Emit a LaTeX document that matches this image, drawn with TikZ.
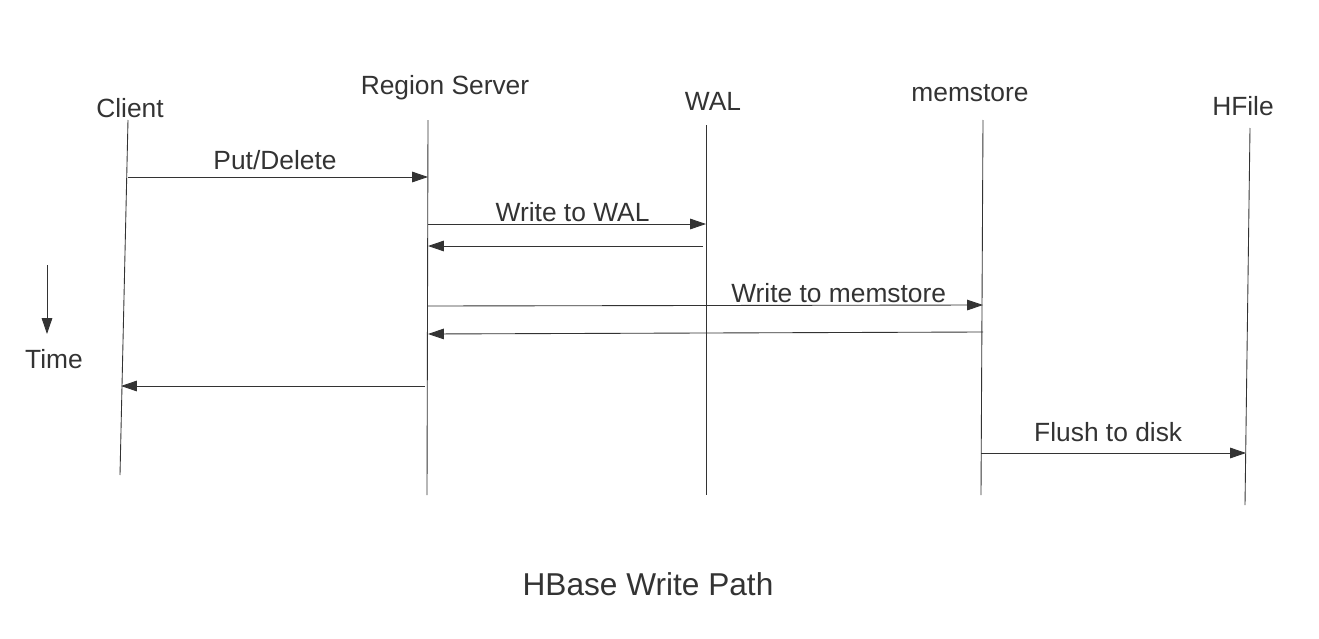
\documentclass[tikz,border=0pt]{standalone}
\usepackage{fontspec}
\setmainfont{Liberation Sans}
\usetikzlibrary{arrows.meta}
\begin{document}
\begin{tikzpicture}[x=0.02cm,y=-0.02cm]
  \tikzstyle{every node}=[font=\fontsize{15}{18}\selectfont, text=black!80, inner sep=1pt]
  \tikzstyle{life}=[black!80, line width=0.5pt]
  \tikzstyle{msg}=[black!80, line width=0.5pt, -{Triangle[length=9pt,width=6pt]}]

  \useasboundingbox (0,0) rectangle (1319,639);

  % actors
  \node (client) at (130,108) {Client};
  \node (rs)     at (445,88)  {Region Server};
  \node (wal)    at (713,101) {WAL};
  \node (mem)    at (970,93)  {memstore};
  \node (hfile)  at (1243,106){HFile};

  % lifelines
  \coordinate (c0) at (128,120); \coordinate (c1) at (120,475);
  \coordinate (r0) at (428,120); \coordinate (r1) at (427,495);
  \coordinate (w0) at (706,125); \coordinate (w1) at (706,495);
  \coordinate (m0) at (983,120); \coordinate (m1) at (981,495);
  \coordinate (h0) at (1250,128);\coordinate (h1) at (1245,505);
  \draw[life] (c0) -- (c1);
  \draw[life] (r0) -- (r1);
  \draw[life] (w0) -- (w1);
  \draw[life] (m0) -- (m1);
  \draw[life] (h0) -- (h1);

  % messages
  \coordinate (a1) at (128,177); \coordinate (b1) at (428,177);
  \coordinate (a2) at (428,224); \coordinate (b2) at (706,224);
  \coordinate (a3) at (703,246); \coordinate (b3) at (428,246);
  \coordinate (a4) at (428,306); \coordinate (b4) at (983,305);
  \coordinate (a5) at (983,332); \coordinate (b5) at (428,334);
  \coordinate (a6) at (425,386); \coordinate (b6) at (121,386);
  \coordinate (a7) at (981,453); \coordinate (b7) at (1246,453);
  \draw[msg] (a1) -- node[above=3pt, pos=0.49] {Put/Delete} (b1);
  \draw[msg] (a2) -- node[above=0pt, pos=0.52] {Write to WAL} (b2);
  \draw[msg] (a3) -- (b3);
  \draw[msg] (a4) -- node[above=0pt, pos=0.74] {Write to memstore} (b4);
  \draw[msg] (a5) -- (b5);
  \draw[msg] (a6) -- (b6);
  \draw[msg] (a7) -- node[above=5pt, pos=0.48] {Flush to disk} (b7);

  % time axis
  \coordinate (t0) at (47,265); \coordinate (t1) at (47,334);
  \draw[msg] (t0) -- (t1);
  \node (time) at (54,359) {Time};

  \node[font=\fontsize{18}{21}\selectfont] (title) at (648,584) {HBase Write Path};
\end{tikzpicture}
\end{document}
